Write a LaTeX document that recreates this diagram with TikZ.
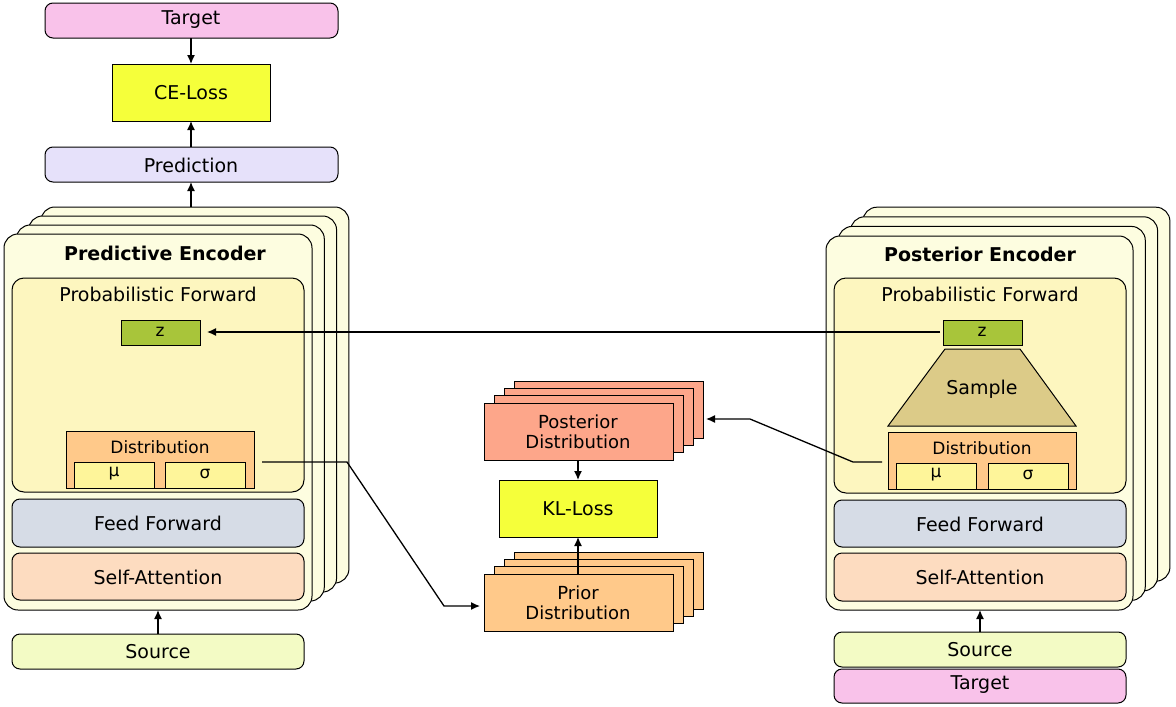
\documentclass[tikz,border=0pt]{standalone}
\usepackage{fontspec}
\setmainfont{DejaVu Sans}
\usetikzlibrary{arrows.meta}
\definecolor{cpink}{HTML}{F9C2EA}
\definecolor{cyel}{HTML}{F5FF3A}
\definecolor{clav}{HTML}{E6E1FA}
\definecolor{cenc}{HTML}{FDFDE0}
\definecolor{cprob}{HTML}{FDF6BF}
\definecolor{cgreen}{HTML}{A8C53A}
\definecolor{cdist}{HTML}{FFC98A}
\definecolor{cmu}{HTML}{FEF59A}
\definecolor{cff}{HTML}{D6DCE6}
\definecolor{csa}{HTML}{FDDCC0}
\definecolor{csrc}{HTML}{F3FBC5}
\definecolor{cpost}{HTML}{FDA68A}
\definecolor{csamp}{HTML}{DCCB88}
\tikzset{
 box/.style={draw=black, line width=1pt},
 rbox/.style={box, rounded corners=8pt},
 lbl/.style={font=\fontsize{19}{21}\selectfont, inner sep=0pt},
 slbl/.style={font=\fontsize{17}{19}\selectfont, inner sep=0pt},
 arr/.style={line width=1.3pt, -{Latex[length=9pt,width=8pt]}},
}
\begin{document}
\begin{tikzpicture}[x=1pt,y=-1pt]
\useasboundingbox (0,0) rectangle (1176,707);
% Left top chain
\draw[rbox,fill=cpink] (45,3) rectangle (338,38);
\node[lbl] (tgt) at (191,20) {Target};
\draw[box,fill=cyel] (112,64) rectangle (270,121);
\node[lbl] (ce) at (191,93) {CE-Loss};
\draw[rbox,fill=clav] (45,147) rectangle (338,182);
\node[lbl] (pred) at (191,165) {Prediction};
\coordinate (tgtb) at (191,38); \coordinate (cet) at (191,64);
\coordinate (ceb) at (191,121); \coordinate (predt) at (191,147);
\coordinate (predb) at (191,182); \coordinate (enct) at (191,207);
\draw[arr] (tgtb) -- (cet);
\draw[arr] (predt) -- (ceb);
\draw[arr] (enct) -- (predb);
% Left encoder stack
\foreach \i in {3,2,1}{
 \draw[rbox,fill=cenc,rounded corners=14pt] (4+12.3*\i,234-9*\i) rectangle (312+12.3*\i,610-9*\i);}
\draw[rbox,fill=cenc,rounded corners=14pt] (4,234) rectangle (312,610);
\node[lbl,font=\fontsize{19}{21}\selectfont\bfseries] (pe) at (165,253) {Predictive Encoder};
\draw[rbox,fill=cprob,rounded corners=12pt] (12,278) rectangle (304,492);
\node[lbl] (pf) at (158,294) {Probabilistic Forward};
\draw[box,fill=cgreen] (121,320) rectangle (200,345);
\node[slbl] (zl) at (160,332) {z};
\coordinate (zlr) at (207,332);
\draw[box,fill=cdist] (66,431) rectangle (254,488);
\node[slbl] (dl) at (160,447) {Distribution};
\draw[box,fill=cmu] (74,462) rectangle (154,488);
\node[slbl] (mul) at (114,474) {μ};
\draw[box,fill=cmu] (165,462) rectangle (245,488);
\node[slbl] (sgl) at (205,474) {σ};
\draw[rbox,fill=cff] (12,499) rectangle (304,547);
\node[lbl] (ffl) at (158,523) {Feed Forward};
\draw[rbox,fill=csa] (12,553) rectangle (304,600);
\node[lbl] (sal) at (158,577) {Self-Attention};
\draw[rbox,fill=csrc] (12,634) rectangle (304,669);
\node[lbl] (srcl) at (158,652) {Source};
\draw[arr] (158,634) -- (158,610);
% Middle stacks
\foreach \i in {3,2,1}{
 \draw[box,fill=cpost] (484+10*\i,403-7.3*\i) rectangle (673+10*\i,460-7.3*\i);
 \draw[box,fill=cdist] (484+10*\i,574-7.3*\i) rectangle (673+10*\i,631-7.3*\i);}
\draw[box,fill=cpost] (484,403) rectangle (673,460);
\node[lbl,align=center,font=\fontsize{18}{20}\selectfont] (post) at (578,432) {Posterior\\Distribution};
\draw[box,fill=cdist] (484,574) rectangle (673,631);
\node[lbl,align=center,font=\fontsize{18}{20}\selectfont] (prior) at (578,603) {Prior\\Distribution};
\draw[box,fill=cyel] (499,480) rectangle (657,537);
\node[lbl] (kl) at (578,509) {KL-Loss};
\draw[arr] (578,460) -- (578,480);
\draw[arr] (578,574) -- (578,537);
% Right encoder stack
\foreach \i in {3,2,1}{
 \draw[rbox,fill=cenc,rounded corners=14pt] (826+12.3*\i,236-9.6*\i) rectangle (1133+12.3*\i,610-9.6*\i);}
\draw[rbox,fill=cenc,rounded corners=14pt] (826,236) rectangle (1133,610);
\node[lbl,font=\fontsize{19}{21}\selectfont\bfseries] (poe) at (980,254) {Posterior Encoder};
\draw[rbox,fill=cprob,rounded corners=12pt] (834,278) rectangle (1126,493);
\node[lbl] (pf2) at (980,294) {Probabilistic Forward};
\draw[box,fill=cgreen] (943,320) rectangle (1022,345);
\node[slbl] (zr) at (982,332) {z};
\draw[box,fill=csamp] (945,349) -- (1020,349) -- (1076,426) -- (888,426) -- cycle;
\node[lbl] (samp) at (982,389) {Sample};
\draw[box,fill=cdist] (888,432) rectangle (1076,489);
\node[slbl] (dr) at (982,448) {Distribution};
\draw[box,fill=cmu] (896,463) rectangle (976,489);
\node[slbl] (mur) at (936,475) {μ};
\draw[box,fill=cmu] (988,463) rectangle (1068,489);
\node[slbl] (sgr) at (1028,475) {σ};
\draw[rbox,fill=cff] (834,500) rectangle (1126,547);
\node[lbl] (ffr) at (980,524) {Feed Forward};
\draw[rbox,fill=csa] (834,553) rectangle (1126,601);
\node[lbl] (sar) at (980,577) {Self-Attention};
\draw[rbox,fill=csrc] (834,632) rectangle (1126,667);
\node[lbl] (srcr) at (980,650) {Source};
\draw[rbox,fill=cpink] (834,669) rectangle (1126,703);
\node[lbl] (tgtr) at (980,685) {Target};
\draw[arr] (980,632) -- (980,610);
% Long connectors
\draw[arr] (940,332) -- (zlr);
\draw[arr] (262,462) -- (347,462) -- (444,606) -- (480,606);
\draw[arr] (882,462) -- (853,462) -- (750,419) -- (706,419);
\end{tikzpicture}
\end{document}
